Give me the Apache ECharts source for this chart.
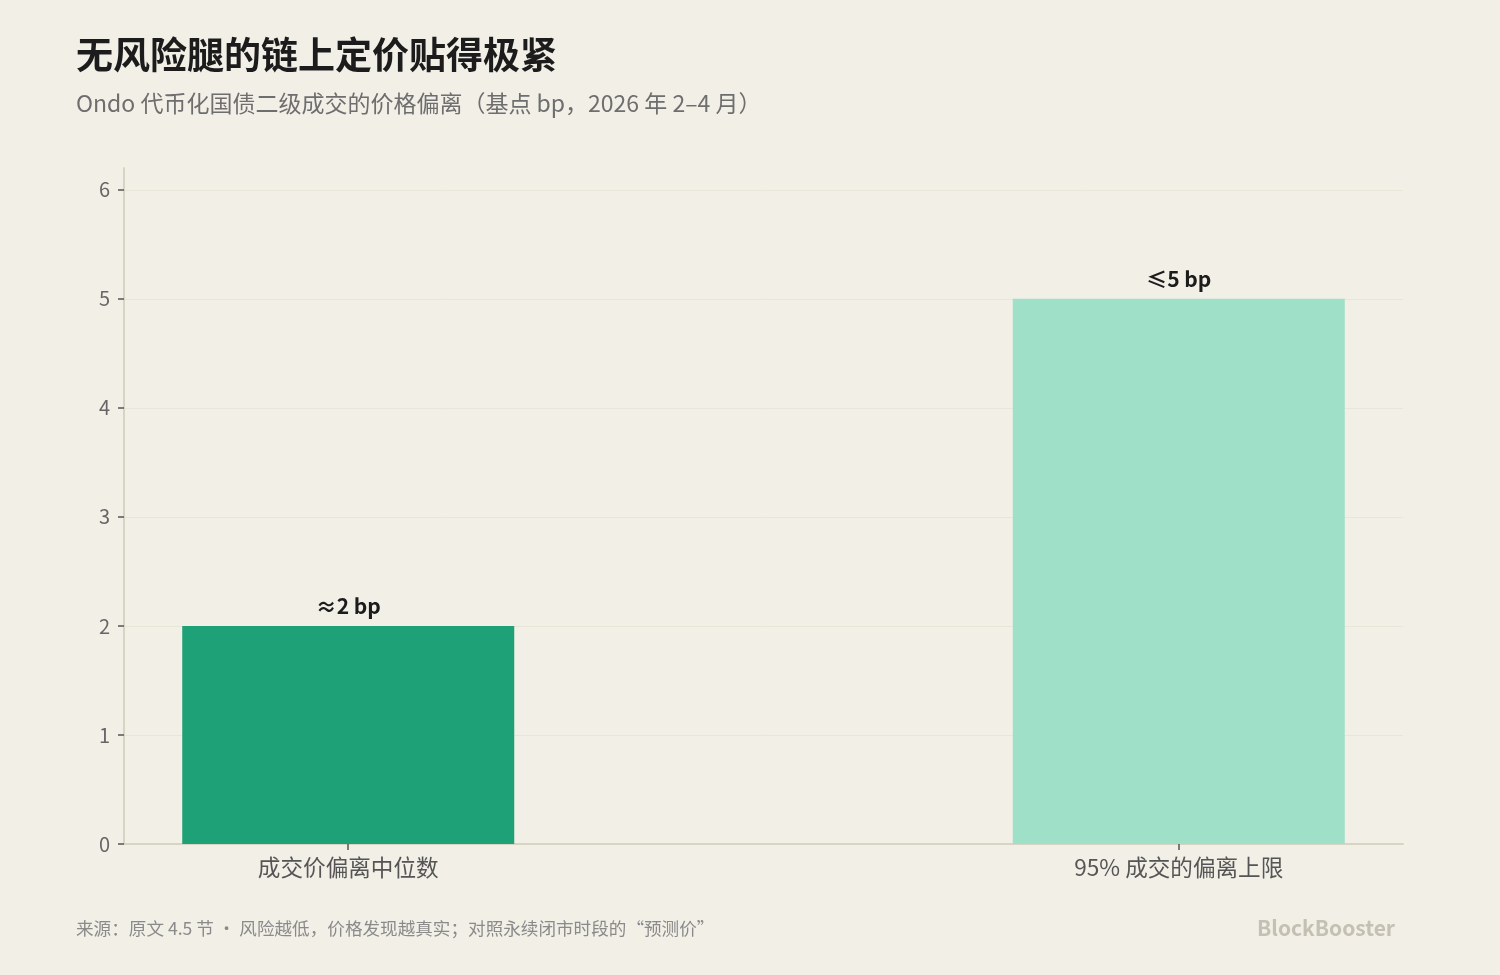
<!DOCTYPE html>
<html lang="zh">
<head>
<meta charset="UTF-8">
<title>无风险腿的链上定价贴得极紧</title>
<script src="https://cdn.jsdelivr.net/npm/echarts@6/dist/echarts.min.js"></script>
<style>
  html, body { margin: 0; padding: 0; background: #f2efe7; }
  #chart { width: 1500px; height: 975px; }
</style>
</head>
<body>
<div id="chart"></div>
<script>
var categories = ['成交价偏离中位数', '95% 成交的偏离上限'];
var values = [2, 5];
var barLabels = ['≈2 bp', '≤5 bp'];
var barColors = ['#1ea176', '#9fe0c9'];
var yTicks = [0, 1, 2, 3, 4, 5, 6];

var FONT = '"Noto Sans CJK SC", "Noto Sans", sans-serif';
var chart = echarts.init(document.getElementById('chart'));

var seriesData = values.map(function (v, i) {
  return {
    value: [i, v],
    itemStyle: { color: barColors[i] },
    label: { formatter: barLabels[i] }
  };
});

var option = {
  backgroundColor: '#f2efe7',
  textStyle: { fontFamily: FONT },
  title: [
    {
      text: '无风险腿的链上定价贴得极紧',
      left: 76, top: 36, padding: 0,
      textStyle: { fontFamily: FONT, fontSize: 37, fontWeight: 'bold', color: '#1c1c1c' }
    },
    {
      text: 'Ondo 代币化国债二级成交的价格偏离（基点 bp，2026 年 2–4 月）',
      left: 76, top: 92, padding: 0,
      textStyle: { fontFamily: FONT, fontSize: 23, fontWeight: 'normal', color: '#6e6e6e' }
    },
    {
      text: '来源：原文 4.5 节 · 风险越低，价格发现越真实；对照永续闭市时段的“预测价”',
      left: 76, top: 920, padding: 0,
      textStyle: { fontFamily: FONT, fontSize: 17.6, fontWeight: 'normal', color: '#8a8a8a' }
    },
    {
      text: 'BlockBooster',
      right: 105, top: 918, padding: 0,
      textStyle: { fontFamily: FONT, fontSize: 21, fontWeight: 'bold', color: '#c4c0b3' }
    }
  ],
  grid: { left: 124, right: 97, top: 168, bottom: 131 },
  xAxis: {
    type: 'value',
    min: -0.27,
    max: 1.27,
    axisLine: { show: true, onZero: false, lineStyle: { color: '#d8d4c4', width: 2 } },
    axisTick: { show: true, customValues: [0, 1], length: 6, lineStyle: { color: '#555', width: 1.5 } },
    axisLabel: {
      customValues: [0, 1],
      formatter: function (v) { return categories[Math.round(v)]; },
      fontFamily: FONT, fontSize: 22.6, color: '#555', margin: 12
    },
    splitLine: { show: false }
  },
  yAxis: {
    type: 'value',
    min: 0,
    max: 6.2,
    axisLine: { show: true, onZero: false, lineStyle: { color: '#d8d4c4', width: 2 } },
    axisTick: { show: true, customValues: yTicks, length: 6, lineStyle: { color: '#555', width: 1.5 } },
    axisLabel: { customValues: yTicks, fontFamily: FONT, fontSize: 20, color: '#666', margin: 14 },
    splitLine: { show: true, lineStyle: { color: '#e9e5d9', width: 1 } }
  },
  series: [{
    type: 'bar',
    barWidth: 332,
    data: seriesData,
    label: {
      show: true,
      position: 'top',
      distance: 9,
      fontFamily: FONT,
      fontSize: 21,
      fontWeight: 'bold',
      color: '#1c1c1c'
    }
  }]
};
chart.setOption(option);
</script>
</body>
</html>
